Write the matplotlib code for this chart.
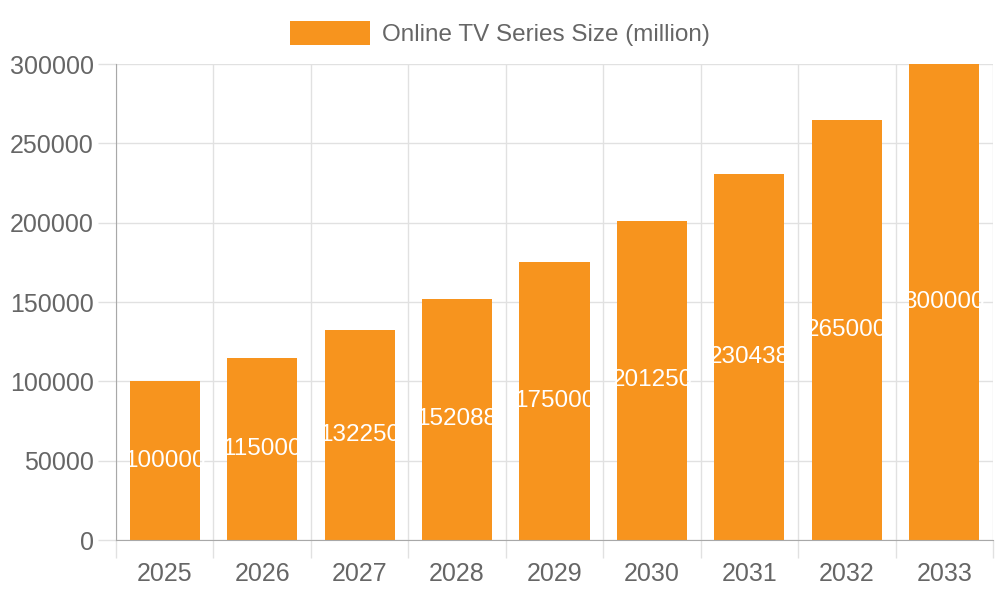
import matplotlib.pyplot as plt
import numpy as np

# data
years = ['2025', '2026', '2027', '2028', '2029', '2030', '2031', '2032', '2033']
sizes = [100000, 115000, 132250, 152088, 175000, 201250, 230438, 265000, 300000]
series_name = 'Online TV Series Size (million)'

bar_color = '#F7941E'
text_gray = '#666666'
grid_gray = '#e1e1e1'
axis_gray = '#a8a8a8'

plt.rcParams['font.family'] = ['Liberation Sans', 'DejaVu Sans']

fig = plt.figure(figsize=(10, 6), dpi=100)
ax = fig.add_axes([0.116, 0.1, 0.877, 0.7933])

x = np.arange(len(years))
bars = ax.bar(x, sizes, width=0.72, color=bar_color, label=series_name, zorder=2)

# value labels, centred in each bar and clipped to it
for rect, v in zip(bars, sizes):
    t = ax.text(rect.get_x() + rect.get_width() / 2, v / 2, str(v),
                ha='center', va='center', color='white', fontsize=17.5, zorder=3)
    t.set_clip_path(rect)

ax.set_xlim(-0.5, len(years) - 0.5)
ax.set_ylim(0, 300000)
ax.set_yticks(np.arange(0, 300001, 50000))
ax.set_xticks(x)
ax.set_xticklabels(years)

# grid lines at category boundaries (chart.js style)
ax.set_xticks(np.arange(-0.5, len(years)), minor=True)
ax.grid(True, which='minor', axis='x', color=grid_gray, lw=1, zorder=0)
ax.grid(True, which='major', axis='y', color=grid_gray, lw=1, zorder=0)
ax.tick_params(axis='x', which='major', length=0, pad=16, labelsize=18, labelcolor=text_gray)
ax.tick_params(axis='x', which='minor', length=13, color=grid_gray, width=1)
ax.tick_params(axis='y', length=13, color=grid_gray, width=1, pad=3, labelsize=18, labelcolor=text_gray)

for s in ['top', 'right']:
    ax.spines[s].set_visible(False)
ax.spines['left'].set_color(axis_gray)
ax.spines['bottom'].set_color(axis_gray)
ax.spines['left'].set_bounds(0, 300000)

fig.legend(handles=[bars], labels=[series_name], loc='upper center',
           bbox_to_anchor=(0.5, 0.993), frameon=False, fontsize=17.5,
           labelcolor=text_gray, handlelength=3.3, handleheight=1.1,
           handletextpad=0.5, borderaxespad=0.3)

fig.savefig('out.png', dpi=100)
